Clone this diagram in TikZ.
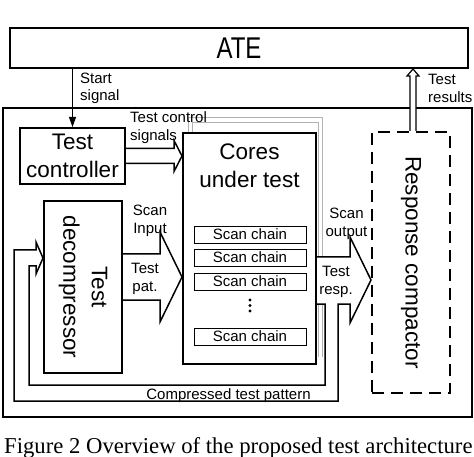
\documentclass[tikz,border=0pt]{standalone}
\usepackage{fontspec}
\setmainfont{Liberation Serif}
\setsansfont{Liberation Sans}
\usetikzlibrary{arrows.meta,calc}

\begin{document}
\begin{tikzpicture}[x=1pt,y=-1pt,
        box/.style={draw=black,line width=2pt,inner sep=0pt},
        respbox/.style={box,dash pattern=on 12pt off 7pt},
        chainbox/.style={draw=black,line width=0.9pt,minimum width=112pt,minimum height=17pt,inner sep=0pt,font=\sffamily\fontsize{15}{17}\selectfont},
        bigtext/.style={font=\sffamily\fontsize{22.5}{28.5}\selectfont,align=center,inner sep=0pt},
        smalltext/.style={font=\sffamily\fontsize{15}{17.5}\selectfont,inner sep=0pt},
        fatarrow/.style={draw=black,line width=1.5pt,line join=miter},
        bus/.style={draw=black!30,line width=1pt,double=white,double distance=3.5pt}]
    \useasboundingbox (0,0) rectangle (474,457);

    \node[box,minimum width=458pt,minimum height=40pt,font=\sffamily\fontsize{24}{28}\selectfont] (ate) at (239,48) {\scalebox{1}[1.25]{ATE}};
    \draw[line width=2pt] (3,108) rectangle (472,417);

    \node[box,minimum width=105pt,minimum height=56pt] (ctrl) at (72.5,156) {};
    \node[box,minimum width=78pt,minimum height=172pt] (dec) at (83,287) {};
    \node[respbox,minimum width=78pt,minimum height=261pt] (resp) at (411,262.5) {};

    \draw[bus] (183,133) ++(7.5,0) -- ++(0,-13) -| (320.5,357);
    \node[box,minimum width=133pt,minimum height=231pt] (cores) at (249.5,248.5) {};

    \foreach \y/\n in {234.5/1,257.5/2,281.5/3,336.5/4}
        \node[chainbox] (chain\n) at (250,\y) {Scan chain};
    \foreach \y in {300,305.5,311}
        \fill (250,\y) circle (1.6pt);

    \node[bigtext] (ctrltext) at (ctrl) {Test\\controller};
    \node[bigtext] (corestext) at (249.5,166) {Cores\\under test};
    \node[bigtext,rotate=-90] (dectext) at (dec) {Test\\decompressor};
    \node[bigtext,rotate=-90] (resptext) at (resp) {Response compactor};

    \draw[line width=1pt,-{Triangle[length=10pt,width=7pt]}] (ctrl.north |- ate.south) -- (ctrl.north);

    \coordinate (resbot) at ($(resp.north)+(2,0)$);
    \coordinate (restop) at (resbot |- ate.south);
    \draw[fatarrow,line width=1.2pt,fill=white] ($(resbot)+(-3,0)$) -- ($(restop)+(-3,7)$) -- ($(restop)+(-6,7)$) -- (restop)
        -- ($(restop)+(6,7)$) -- ($(restop)+(3,7)$) -- ($(resbot)+(3,0)$);

    \coordinate (ctip) at (cores.west |- ctrl.east);
    \draw[fatarrow] ($(ctrl.east)+(0,-7.5)$) -- ($(ctip)+(-8,-7.5)$) -- ($(ctip)+(-8,-15.5)$) -- (ctip)
        -- ($(ctip)+(-8,15.5)$) -- ($(ctip)+(-8,7.5)$) -- ($(ctrl.east)+(0,7.5)$);

    \draw[fatarrow] (dec.east |- 0,254) -- (160,254) -- (160,232) -- (cores.west |- 0,277)
        -- (160,322) -- (160,300) -- (dec.east |- 0,300);

    \fill[white] (cores.east |- 0,257) rectangle (350,304);
    \draw[fatarrow] (cores.east |- 0,257) -- (350,257) -- (350,237) -- (resp.west |- 0,280) -- (350,323) -- (350,304)
        -- (338,304) -- (338,401) -- (14,401) -- (14,250) -- (36,250) -- (36,242) -- (dec.west |- 0,258)
        -- (36,274) -- (36,266) -- (29,266) -- (29,385) -- (325,385) -- (325,304) -- (cores.east |- 0,304);

    \node[smalltext,anchor=west,align=left] (startlbl) at (80,88.5) {Start\\signal};
    \node[smalltext,anchor=west,align=left] (reslbl) at (428,88.5) {Test\\results};
    \node[smalltext,anchor=west,align=left] (ctrllbl) at (130,127.5) {Test control\\signals};
    \node[smalltext,align=center] (scanin) at (150,221) {Scan\\Input};
    \node[smalltext,align=center] (testpat) at (145,279) {Test\\pat.};
    \node[smalltext,align=center] (scanout) at (346.5,224) {Scan\\output};
    \node[smalltext,align=center] (testresp) at (336,282) {Test\\resp.};
    \node[smalltext,anchor=base] (cmplbl) at (228.5,399) {Compressed test pattern};
    \node[anchor=base west,inner sep=0pt,font=\fontsize{22.7}{26}\selectfont] (caption) at (4,453) {Figure 2 Overview of the proposed test architecture};
\end{tikzpicture}
\end{document}
